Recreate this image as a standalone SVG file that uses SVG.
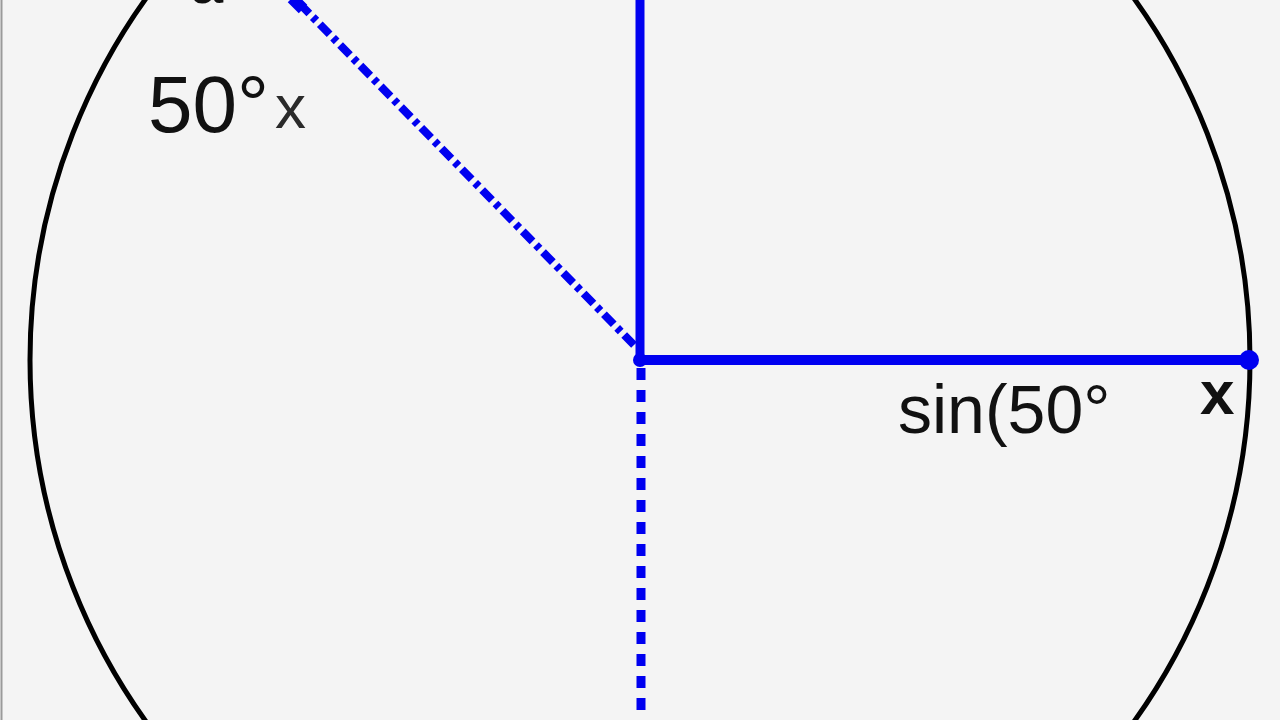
<svg xmlns="http://www.w3.org/2000/svg" width="1280" height="720" viewBox="0 0 1280 720">
<style>
.lbl{font-family:"Liberation Sans",Arial,sans-serif;fill:#111}
.blue{stroke:#0000f0;fill:none}
</style>
<rect width="1280" height="720" fill="#f4f4f4"/>
<line x1="1.5" y1="0" x2="1.5" y2="720" stroke="#9a9a9a" stroke-width="2"/>
<g id="circle">
<ellipse cx="640" cy="360" rx="610" ry="616" fill="none" stroke="#000" stroke-width="5"/>
</g>
<g id="connectors">
<line class="blue" x1="640" y1="0" x2="640" y2="360" stroke-width="9"/>
<line class="blue" x1="640" y1="360" x2="1249" y2="360" stroke-width="10"/>
<line class="blue" x1="641" y1="368" x2="641" y2="720" stroke-width="9" stroke-dasharray="12 10"/>
<line class="blue" x1="634" y1="345" x2="300" y2="4" stroke-width="8" stroke-dasharray="14 5 5 5"/>
<line class="blue" x1="303" y1="9" x2="292" y2="-2" stroke-width="12"/>
<circle cx="640" cy="360" r="7" fill="#0000f0"/>
<circle cx="1249" cy="360" r="10" fill="#0000f0"/>
</g>
<g id="labels">
<text class="lbl" x="190" y="3" font-size="60">a</text>
<text class="lbl" x="148" y="132" font-size="80">50°</text>
<text class="lbl" x="275" y="128" font-size="62" style="fill:#2a2a2a">x</text>
<text class="lbl" x="898" y="433" font-size="68">sin(50°</text>
<text class="lbl" x="1200" y="414" font-size="62" font-weight="bold">x</text>
</g>
</svg>
